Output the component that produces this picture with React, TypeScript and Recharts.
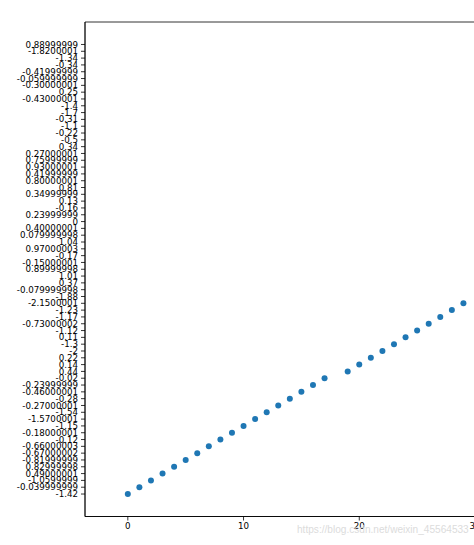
import { ScatterChart, Scatter, XAxis, YAxis, ReferenceArea } from "recharts"

// y categories, bottom to top (order of first appearance)
const yCategories = [
  "-1.42", "-0.039999999", "-1.0599999", "0.49000001", "0.82999998", "-0.81999999",
  "-0.67000002", "-0.66000003", "-0.12", "-0.18000001", "-1.15", "-1.5700001",
  "-1.54", "-0.27000001", "-0.28", "-0.46000001", "-0.23999999", "-0.02",
  "0.44", "0.14", "0.22", "-2", "-1.3", "0.11", "-1.12", "-0.73000002",
  "-1.17", "-1.23", "-2.1500001", "-1.88", "-0.079999998", "0.37", "1.01",
  "0.89999998", "-0.15000001", "-0.17", "0.97000003", "1.04", "0.079999998",
  "0.40000001", "0", "0.23999999", "-0.16", "0.13", "0.34999999", "0.81",
  "0.80000001", "0.41999999", "0.93000001", "0.75999999", "0.27000001", "0.34",
  "-0.5", "-0.22", "-1.1", "-0.31", "-1.7", "-1.4", "-0.43000001", "0.25",
  "-0.30000001", "-0.059999999", "-0.41999999", "-0.34", "-1.34", "-1.8200001",
  "0.88999999",
]

// x positions of the visible points (x = 18 has no point)
const pointX = [
  0, 1, 2, 3, 4, 5, 6, 7, 8, 9, 10, 11, 12, 13, 14, 15, 16, 17,
  19, 20, 21, 22, 23, 24, 25, 26, 27, 28, 29,
]

const xTicks = [0, 10, 20, 30, 40, 50, 60, 70]

const data = pointX.map((x, i) => ({ x, y: i }))
const yTicks = yCategories.map((_, i) => i)

const FONT = "DejaVu Sans, sans-serif"

export default function App() {
  return (
    <div
      style={{
        position: "fixed",
        top: 0,
        left: 0,
        width: 474,
        height: 545,
        overflow: "hidden",
        background: "#fff",
      }}
    >
      <ScatterChart width={1100} height={545} margin={{ top: 22, right: 73, bottom: 0, left: 0 }}>
        <XAxis
          type="number"
          dataKey="x"
          domain={[-3.7, 77.7]}
          ticks={xTicks}
          allowDataOverflow
          height={28.5}
          tickSize={4}
          tickMargin={2}
          interval={0}
          stroke="#000"
          strokeWidth={0.8}
          tick={{ fill: "#000", fontSize: 8.7, fontFamily: FONT }}
        />
        <YAxis
          type="number"
          dataKey="y"
          domain={[-3.3, 69.3]}
          ticks={yTicks}
          allowDataOverflow
          width={85}
          tickSize={4}
          tickMargin={3}
          interval={0}
          tickFormatter={(i: number) => yCategories[i]}
          stroke="#000"
          strokeWidth={0.8}
          tick={{ fill: "#000", fontSize: 8.7, fontFamily: FONT }}
        />
        <ReferenceArea
          x1={-3.7}
          x2={77.7}
          y1={-3.3}
          y2={69.3}
          fill="none"
          stroke="#000"
          strokeWidth={0.8}
          strokeOpacity={1}
        />
        <Scatter
          data={data}
          isAnimationActive={false}
          shape={(props: any) => <circle cx={props.cx} cy={props.cy} r={3} fill="#1f77b4" />}
        />
      </ScatterChart>
      <div
        style={{
          position: "absolute",
          left: 297,
          top: 524,
          fontFamily: "Liberation Sans, Arial, sans-serif",
          fontSize: 10.1,
          color: "#dcdcdc",
          whiteSpace: "nowrap",
        }}
      >
        https://blog.csdn.net/weixin_45564533
      </div>
    </div>
  )
}
